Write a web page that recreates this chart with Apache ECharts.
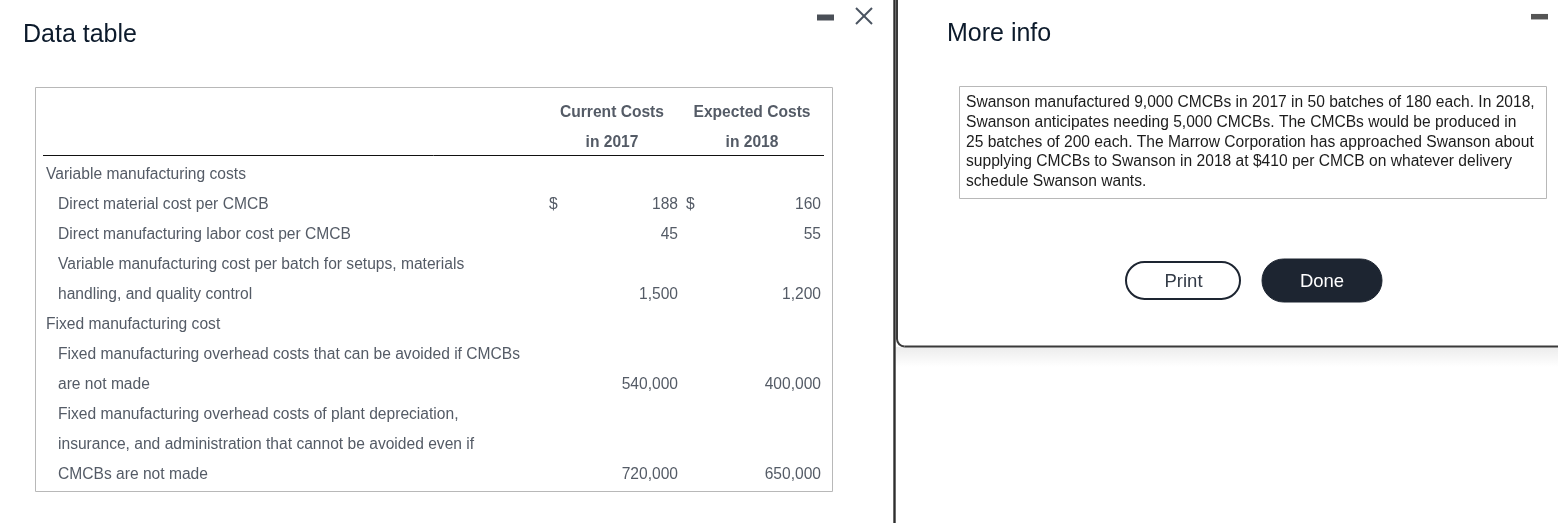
<!DOCTYPE html>
<html lang="en">
<head>
<meta charset="utf-8">
<title>Data table</title>
<script src="https://cdn.jsdelivr.net/npm/echarts@6/dist/echarts.min.js"></script>
<style>
  html, body { margin: 0; padding: 0; background: #fff; }
  #main { width: 1558px; height: 523px; }
</style>
</head>
<body>
<div id="main"></div>
<script>
// table contents
var rowLabels = [
  'Variable manufacturing costs',
  'Direct material cost per CMCB',
  'Direct manufacturing labor cost per CMCB',
  'Variable manufacturing cost per batch for setups, materials',
  'handling, and quality control',
  'Fixed manufacturing cost',
  'Fixed manufacturing overhead costs that can be avoided if CMCBs',
  'are not made',
  'Fixed manufacturing overhead costs of plant depreciation,',
  'insurance, and administration that cannot be avoided even if',
  'CMCBs are not made'
];
var rowIndent = [0, 1, 1, 1, 1, 0, 1, 1, 1, 1, 1];
var costs2017 = ['', '188', '45', '', '1,500', '', '', '540,000', '', '', '720,000'];
var costs2018 = ['', '160', '55', '', '1,200', '', '', '400,000', '', '', '650,000'];
var dollars2017 = ['', '$', '', '', '', '', '', '', '', '', ''];
var dollars2018 = ['', '$', '', '', '', '', '', '', '', '', ''];
var header2017 = ['Current Costs', 'in 2017'];
var header2018 = ['Expected Costs', 'in 2018'];
var infoLines = [
  'Swanson manufactured 9,000 CMCBs in 2017 in 50 batches of 180 each. In 2018,',
  'Swanson anticipates needing 5,000 CMCBs. The CMCBs would be produced in',
  '25 batches of 200 each. The Marrow Corporation has approached Swanson about',
  'supplying CMCBs to Swanson in 2018 at $410 per CMCB on whatever delivery',
  'schedule Swanson wants.'
];

var FONT = '"Liberation Sans", Arial, sans-serif';
var GREY = '#545b66';
var chart = echarts.init(document.getElementById('main'), null, { renderer: 'canvas' });

// one custom series per table column, rows placed by the category axis
function column(name, texts, xFor, align) {
  return {
    name: name,
    type: 'custom',
    coordinateSystem: 'cartesian2d',
    silent: true,
    data: rowLabels.map(function (r, i) { return [0, i]; }),
    renderItem: function (params, api) {
      var i = params.dataIndex;
      var pt = api.coord([xFor(i), i]);
      return {
        type: 'text',
        style: {
          x: pt[0], y: pt[1], text: texts[i], fill: GREY,
          font: '15.6px ' + FONT, textAlign: align, textVerticalAlign: 'middle'
        }
      };
    }
  };
}

function text(x, y, s, size, fill, align, weight) {
  return {
    type: 'text', silent: true,
    style: {
      x: x, y: y, text: s, fill: fill, textAlign: align || 'left', textVerticalAlign: 'middle',
      font: (weight || 'normal') + ' ' + size + 'px ' + FONT
    }
  };
}
function line(x1, y1, x2, y2, color, w) {
  return { type: 'line', silent: true, shape: { x1: x1, y1: y1, x2: x2, y2: y2 }, style: { stroke: color, lineWidth: w } };
}
function rect(x, y, w, h, r, fill, stroke, lw) {
  return { type: 'rect', silent: true, shape: { x: x, y: y, width: w, height: h, r: r },
    style: { fill: fill, stroke: stroke, lineWidth: lw || 1 } };
}

var chrome = [
  // left dialog
  text(23, 35, 'Data table', 25, '#0c1a2b'),
  line(817, 17.5, 834, 17.5, '#4a4f57', 6),
  line(856, 8, 872, 24, '#4a5360', 2),
  line(872, 8, 856, 24, '#4a5360', 2),
  rect(35.5, 87.5, 797, 404, 0, 'none', '#b8b8b8'),
  line(43, 155.5, 824, 155.5, '#111', 1),
  text(612, 113, header2017[0], 15.6, GREY, 'center', 'bold'),
  text(612, 143, header2017[1], 15.6, GREY, 'center', 'bold'),
  text(752, 113, header2018[0], 15.6, GREY, 'center', 'bold'),
  text(752, 143, header2018[1], 15.6, GREY, 'center', 'bold'),
  // right dialog, soft shadow under it first
  {
    type: 'rect', silent: true,
    shape: { x: 896, y: 347, width: 662, height: 20 },
    style: {
      fill: new echarts.graphic.LinearGradient(0, 0, 0, 1, [
        { offset: 0, color: '#ececec' },
        { offset: 1, color: '#ffffff' }
      ])
    }
  },
  line(894.5, 0, 894.5, 523, '#2e2e2e', 2.4),
  line(897, 0, 897, 339, '#3a3a3a', 2),
  { type: 'arc', silent: true, shape: { cx: 904.5, cy: 339, r: 7.5, startAngle: Math.PI / 2, endAngle: Math.PI, clockwise: true },
    style: { fill: 'none', stroke: '#3a3a3a', lineWidth: 2 } },
  line(904.5, 346.5, 1558, 346.5, '#3a3a3a', 2),
  text(947, 34, 'More info', 25, '#0c1a2b'),
  line(1531, 16.7, 1548, 16.7, '#555', 5.5),
  rect(959.5, 86.5, 587, 112, 0, 'none', '#b8b8b8'),
  rect(1126, 262, 114, 37, 18.5, '#fff', '#1d2531', 2),
  text(1183.5, 282, 'Print', 18.5, '#333b47', 'center'),
  rect(1262, 259, 120, 43, 21.5, '#1d2531', '#1d2531'),
  text(1322, 282, 'Done', 18.5, '#fff', 'center')
];
var infoY = [103, 123, 143, 162, 182];
infoLines.forEach(function (s, i) {
  chrome.push(text(966, infoY[i], s, 15.6, '#1c1c1c'));
});

chart.setOption({
  animation: false,
  backgroundColor: '#fff',
  grid: { left: 0, top: 160, width: 1558, height: 329.5 },
  xAxis: { type: 'value', min: 0, max: 1558, show: false },
  yAxis: { type: 'category', inverse: true, show: false, data: rowLabels.map(function (r, i) { return i; }) },
  series: [
    column('labels', rowLabels, function (i) { return rowIndent[i] ? 58 : 46; }, 'left'),
    column('dollar2017', dollars2017, function () { return 549; }, 'left'),
    column('cost2017', costs2017, function () { return 678; }, 'right'),
    column('dollar2018', dollars2018, function () { return 686; }, 'left'),
    column('cost2018', costs2018, function () { return 821; }, 'right')
  ],
  graphic: { elements: chrome }
});
</script>
</body>
</html>
